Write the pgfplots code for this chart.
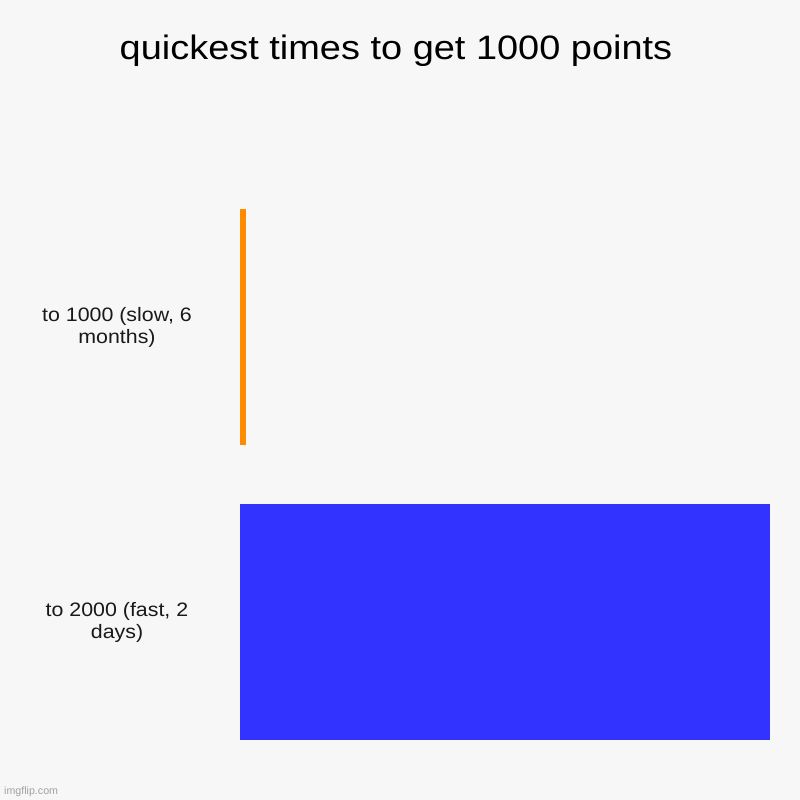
\documentclass[border=0pt]{standalone}
\usepackage{pgfplots}
\pgfplotsset{compat=1.18}
\usepackage{fontspec}
\setmainfont{Liberation Sans}
\newfontfamily\titlefont{Liberation Sans}[FakeStretch=1.12]
\newfontfamily\labelfont{Liberation Sans}[FakeStretch=1.1]
\definecolor{bg}{HTML}{F7F7F7}
\definecolor{barorange}{HTML}{FF8C00}
\definecolor{barblue}{HTML}{3333FF}
\definecolor{wm}{HTML}{A0A0A0}
\begin{document}
\begin{tikzpicture}[x=1bp,y=1bp]
\fill[bg] (0,0) rectangle (800,800);
\node[anchor=base,inner sep=0pt] at (396,740)
  {\titlefont\fontsize{34}{40}\selectfont quickest times to get 1000 points};
\begin{axis}[
    at={(240bp,30.4bp)}, anchor=south west,
    scale only axis,
    width=530bp, height=589.5bp,
    xbar, bar width=236bp, bar shift=0pt,
    xmin=0, xmax=100,
    ymin=-0.5, ymax=1.5,
    axis x line=none,
    axis y line*=left,
    y axis line style={draw=none},
    major tick length=0pt,
    ytick={0,1},
    yticklabels={{to 2000 (fast, 2\\days)}, {to 1000 (slow, 6\\months)}},
    yticklabel style={align=center, anchor=center, xshift=-123bp,
      font=\labelfont\fontsize{19.5}{22}\selectfont, text=black!90},
]
\addplot[draw=none, fill=barblue] coordinates {(100,0)};
\addplot[draw=none, fill=barorange] coordinates {(1.05,1)};
\end{axis}
\node[anchor=base west,inner sep=0pt,text=wm] at (4,5)
  {\fontsize{10.7}{12}\selectfont imgflip.com};
\pgfresetboundingbox
\path (0,0) rectangle (800,800);
\end{tikzpicture}
\end{document}
